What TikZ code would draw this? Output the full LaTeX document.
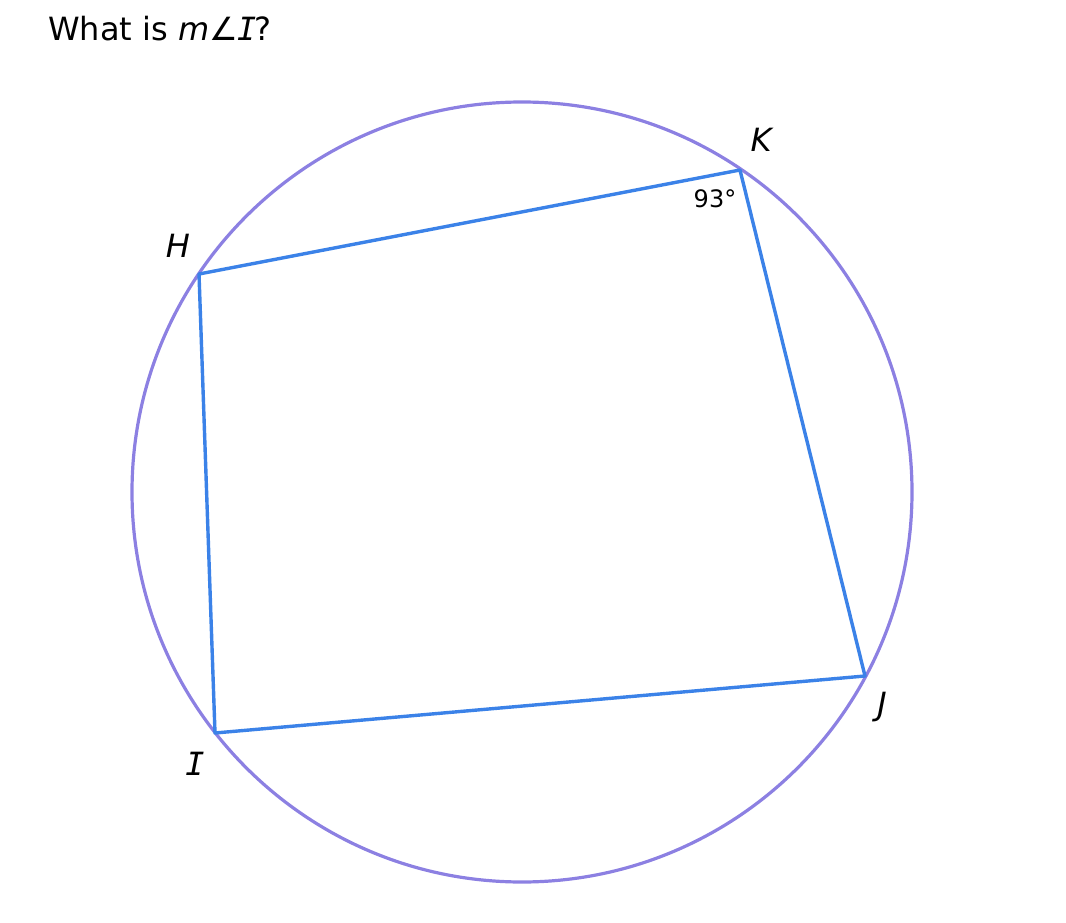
\documentclass[tikz,border=0pt]{standalone}
\usepackage{fontspec}
\setmainfont{DejaVu Sans}
\newfontfamily\monofam{DejaVu Sans Mono}
\newcommand{\serifI}{{\monofam\itshape I}}
\begin{document}
\begin{tikzpicture}[x=1pt,y=-1pt,
  circ/.style={draw={rgb,255:red,140;green,128;blue,226}, line width=3.2pt},
  quad/.style={draw={rgb,255:red,59;green,130;blue,232}, line width=3.4pt, line join=round},
  lbl/.style={font=\fontsize{32}{36}\selectfont\itshape, inner sep=0pt},
  ang/.style={font=\fontsize{24}{28}\selectfont, inner sep=0pt}]
\useasboundingbox (0,0) rectangle (1066,923);
\coordinate (O) at (522,492);
\draw[circ] (O) circle (390);
\coordinate (K) at (740,170);
\coordinate (H) at (199,274);
\coordinate (I) at (215,733);
\coordinate (J) at (865,676);
\draw[quad] (H) -- (K) -- (J) -- (I) -- cycle;
\node[anchor=base west, inner sep=0pt, font=\fontsize{32}{36}\selectfont] (title) at (48,41) {What is \textit{m}∠\kern-1pt\serifI\kern-2pt?};
\node[lbl] (lK) at (761,140) {K};
\node[lbl] (lH) at (178,246) {H};
\node[lbl] (lI) at (195,764) {\serifI};
\node[lbl] (lJ) at (882,707) {J};
\node[ang] (a93) at (715,199) {93°};
\end{tikzpicture}
\end{document}
